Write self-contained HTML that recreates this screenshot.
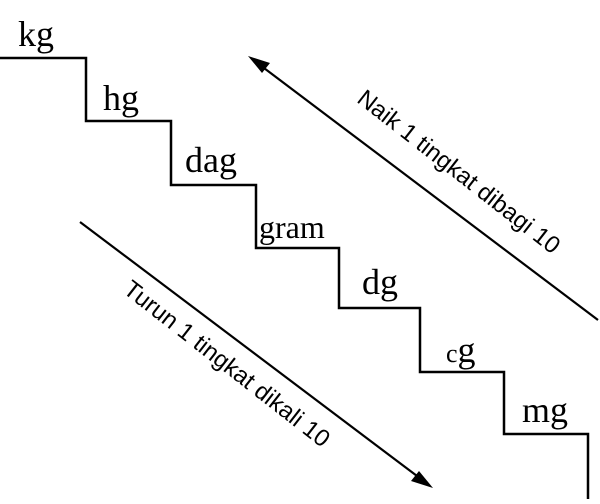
<!DOCTYPE html>
<html><head><style>body{margin:0;background:#fff}</style></head><body>
<svg width="600" height="499" xmlns="http://www.w3.org/2000/svg">
<polyline points="0,58 86,58 86,121 171,121 171,185 256,185 256,248 339,248 339,308 420,308 420,372 504,372 504,434 588,434 588,499" fill="none" stroke="#000" stroke-width="2.5"/>
<g font-family="Liberation Serif, serif" font-size="36" fill="#000">
<text x="18" y="46">kg</text>
<text x="103" y="110">hg</text>
<text x="185" y="172">dag</text>
<text x="259" y="238" font-size="32">gram</text>
<text x="362" y="294">dg</text>
<text x="446" y="362"><tspan font-size="26">c</tspan>g</text>
<text x="522" y="422">mg</text>
</g>
<line x1="598" y1="320" x2="256" y2="62" stroke="#000" stroke-width="2.2"/>
<path d="M248,56 L270,63 L262,73 Z"/>
<line x1="80" y1="222" x2="425" y2="482" stroke="#000" stroke-width="2.2"/>
<path d="M433,488 L411,481 L419,471 Z"/>
<g font-family="Liberation Sans, sans-serif" font-size="24" fill="#000" text-anchor="middle">
<text transform="translate(454,178) rotate(38)">Naik 1 tingkat dibagi 10</text>
<text transform="translate(222,370) rotate(38)">Turun 1 tingkat dikali 10</text>
</g>
</svg>
</body></html>
